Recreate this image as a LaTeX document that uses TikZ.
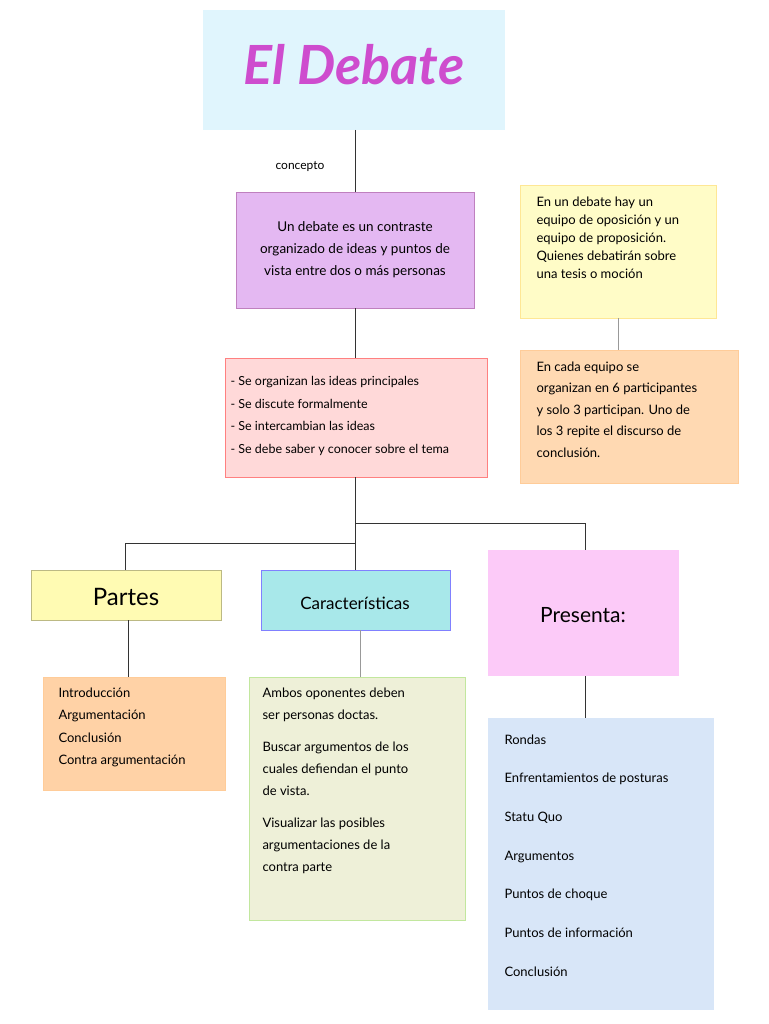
\documentclass[tikz,border=0pt]{standalone}
\usepackage{fontspec}
\setmainfont{Lato}
\definecolor{cviol}{HTML}{E4B8F2}
\definecolor{cblue}{HTML}{D8E6F8}
\definecolor{cgreen}{HTML}{EEF0D8}
\definecolor{cpink}{HTML}{FCCAF8}
\definecolor{ccyan}{HTML}{A8E8EA}
\begin{document}
\begin{tikzpicture}[x=1pt,y=-1pt,
 box/.style={draw=#1,line width=0.8pt,inner sep=0pt},
 txt/.style={font=\fontsize{13}{15}\selectfont,align=left,anchor=north west},
 ln/.style={line width=0.9pt,black!80}]
\useasboundingbox (0,0) rectangle (768,1024);
\fill[white] (0,0) rectangle (768,1024);
% title
\fill[cyan!12] (203,10) rectangle (505,130);
\node (title) at (354,65) [draw=none] {\fontsize{54}{60}\selectfont\bfseries\itshape\color{violet!55!magenta!70}El Debate};
\coordinate (tb) at (355,130);
\node at (300,167) {\fontsize{12}{13}\selectfont concepto};
% concept
\draw[box=violet!50,fill=cviol] (236,192) rectangle (474,308);
\node (con) at (355,250) [align=center,font=\fontsize{13.5}{22}\selectfont] {Un debate es un contraste\\organizado de ideas y puntos de\\vista entre dos o más personas};
\draw[ln] (tb) -- (355,192);
% yellow
\draw[box=yellow!60!orange!40,fill=yellow!22] (520,185) rectangle (716,318);
\node[txt] (ye) at (533,193) [font=\fontsize{13}{18}\selectfont] {En un debate hay un\\equipo de oposición y un\\equipo de proposición.\\Quienes debatirán sobre\\una tesis o moción};
\draw[box=orange!40,fill=orange!30] (520,350) rectangle (738,483);
\node[txt] (or) at (533,358) [font=\fontsize{13}{21.5}\selectfont] {En cada equipo se\\organizan en 6 participantes\\y solo 3 participan. Uno de\\los 3 repite el discurso de\\conclusión.};
\draw[ln,black!40] (618,318) -- (618,350);
% pink list
\draw[box=red!50,fill=red!15] (225,358) rectangle (487,477);
\node[txt] (pl) at (227,373) [font=\fontsize{12.5}{22.5}\selectfont] {- Se organizan las ideas principales\\- Se discute formalmente\\- Se intercambian las ideas\\- Se debe saber y conocer sobre el tema};
\draw[ln] (355,308) -- (355,358);
\draw[ln] (355,477) -- (355,543);
\draw[ln] (125,543) -- (355,543);
\draw[ln] (355,523) -- (585,523) -- (585,550);
\draw[ln] (125,543) -- (125,570);
\draw[ln] (355,543) -- (355,570);
% Partes
\draw[box=yellow!50!black!60,fill=yellow!30] (31,570) rectangle (221,620);
\node (par) at (126,597) {\fontsize{24}{28}\selectfont Partes};
\draw[box=blue!50,fill=ccyan] (261,570) rectangle (450,630);
\node (car) at (355,603) {\fontsize{17}{20}\selectfont Características};
\fill[cpink] (488,550) rectangle (679,676);
\node (pre) at (583,615) {\fontsize{21}{24}\selectfont Presenta:};
% lists
\draw[box=orange!40,fill=orange!35] (43,677) rectangle (225,790);
\node[txt] (pal) at (55,684) [font=\fontsize{13}{22.5}\selectfont] {Introducción\\Argumentación\\Conclusión\\Contra argumentación};
\draw[ln] (128,620) -- (128,677);
\draw[box=yellow!40!green!40,fill=cgreen] (249,677) rectangle (465,920);
\node[txt] (cal) at (259,684) [font=\fontsize{13}{22}\selectfont] {Ambos oponentes deben\\ser personas doctas.\\[10pt]Buscar argumentos de los\\cuales defiendan el punto\\de vista.\\[10pt]Visualizar las posibles\\argumentaciones de la\\contra parte};
\draw[ln,black!40] (360,630) -- (360,677);
\fill[cblue] (488,718) rectangle (714,1010);
\node[txt] (prl) at (501,731) [font=\fontsize{13}{38.7}\selectfont] {Rondas\\Enfrentamientos de posturas\\Statu Quo\\Argumentos\\Puntos de choque\\Puntos de información\\Conclusión};
\draw[ln] (585,676) -- (585,718);
\end{tikzpicture}
\end{document}
